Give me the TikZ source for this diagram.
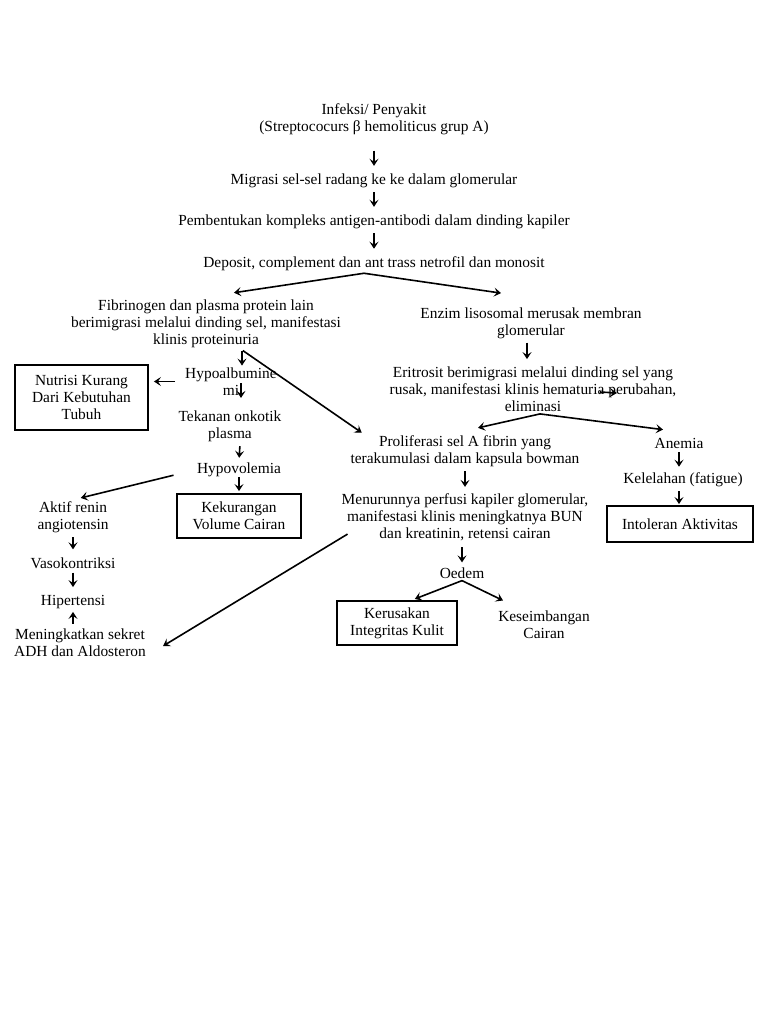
\documentclass[tikz,border=0pt]{standalone}
\usepackage{fontspec}
\setmainfont{Liberation Serif}
\usetikzlibrary{arrows.meta}

\begin{document}
\begin{tikzpicture}[x=1pt,y=-1pt,font=\fontsize{15.4}{16.8}\selectfont]
  \tikzstyle{txt}=[align=center,inner xsep=2pt,inner ysep=2pt]
  \tikzstyle{boxed}=[txt,draw,line width=1.9pt]
  \tikzstyle{arr}=[-{Stealth[length=7pt,width=9pt,inset=3pt]},line width=1.6pt,shorten <=2pt,shorten >=6pt]
  \useasboundingbox (0,0) rectangle (768,1024);
  % main chain
  \node[txt] (infeksi) at (374,119) {Infeksi/ Penyakit\\(Streptococurs β hemoliticus grup A)};
  \node[txt] (migrasi) at (374,181) {Migrasi sel-sel radang ke ke dalam glomerular};
  \node[txt] (pemb) at (374,222) {Pembentukan kompleks antigen-antibodi dalam dinding kapiler};
  \node[txt] (deposit) at (374,264) {Deposit, complement dan ant trass netrofil dan monosit};
  % left branch
  \node[txt] (fib) at (206,324) {Fibrinogen dan plasma protein lain\\berimigrasi melalui dinding sel, manifestasi\\klinis proteinuria};
  \node[txt] (hypo) at (231,381.5) {Hypoalbumine\\mi};
  \node[boxed,minimum width=133pt,minimum height=65pt] (nutrisi) at (81.5,397.5) {Nutrisi Kurang\\Dari Kebutuhan\\Tubuh};
  \node[txt] (tek) at (230,426.5) {Tekanan onkotik\\plasma};
  \node[txt] (hypov) at (239,470) {Hypovolemia};
  \node[boxed,minimum width=124pt,minimum height=44pt] (kek) at (239,516) {Kekurangan\\Volume Cairan};
  \node[txt] (aktif) at (73,517.5) {Aktif renin\\angiotensin};
  \node[txt] (vaso) at (73,563) {Vasokontriksi};
  \node[txt] (hiper) at (73,602) {Hipertensi};
  \node[txt] (menin) at (80,643) {Meningkatkan sekret\\ADH dan Aldosteron};
  % right branch
  \node[txt] (enzim) at (531,323) {Enzim lisosomal merusak membran\\glomerular};
  \node[txt] (erit) at (533,389.5) {Eritrosit berimigrasi melalui dinding sel yang\\rusak, manifestasi klinis hematuria perubahan,\\eliminasi};
  \node[txt] (prolif) at (465,451.5) {Proliferasi sel A fibrin yang\\terakumulasi dalam kapsula bowman};
  \node[txt] (menurun) at (465,517.5) {Menurunnya perfusi kapiler glomerular,\\manifestasi klinis meningkatnya BUN\\dan kreatinin, retensi cairan};
  \node[txt] (oedem) at (462,573) {Oedem};
  \node[boxed,minimum width=120pt,minimum height=44pt] (kerus) at (397,623) {Kerusakan\\Integritas Kulit};
  \node[txt] (kesei) at (544,624.5) {Keseimbangan\\Cairan};
  \node[txt] (anemia) at (679,443) {Anemia};
  \node[txt] (kel) at (683,480) {Kelelahan (fatigue)};
  \node[boxed,minimum width=146pt,minimum height=36pt] (intol) at (680,524) {Intoleran Aktivitas};
  \coordinate (hemA) at (600,392);
  \coordinate (hemB) at (617,393);
  % arrows
  \draw[arr,shorten <=14pt] (infeksi) -- (migrasi);
  \draw[arr] (migrasi) -- (pemb);
  \draw[arr] (pemb) -- (deposit);
  \draw[arr,shorten <=0pt,shorten >=2pt] ([xshift=-10pt]deposit.south) -- ([xshift=26pt,yshift=5pt]fib.north);
  \draw[arr,shorten <=0pt,shorten >=2pt] ([xshift=-10pt]deposit.south) -- ([xshift=-28pt,yshift=12pt]enzim.north);
  \draw[arr,shorten <=1pt,shorten >=0pt] ([xshift=36pt]fib.south) -- ([xshift=11pt]hypo.north);
  \draw[arr,shorten <=1pt,shorten >=2pt] ([xshift=36pt]fib.south) -- ([xshift=15pt]prolif.north west);
  \draw[arr,shorten <=8pt,shorten >=5pt] (hypo.west) -- (hypo.west -| nutrisi.east);
  \draw[arr,shorten <=0pt,shorten >=0pt] ([xshift=10pt,yshift=14pt]hypo.south) -- ([xshift=11pt,yshift=11pt]tek.north);
  \draw[arr,shorten >=3pt] ([xshift=10pt]tek.south) -- (hypov.north);
  \draw[arr,shorten <=22pt,shorten >=8pt] (hypov.west) -- (aktif.north);
  \draw[arr,shorten <=-2pt,shorten >=2pt] (hypov) -- (kek);
  \draw[arr] (aktif) -- (vaso);
  \draw[arr] (vaso) -- (hiper);
  \draw[arr,shorten <=3pt,shorten >=1pt] ([xshift=-7pt]menin.north) -- (hiper.south);
  \draw[arr,shorten <=0pt,shorten >=0pt] ([xshift=8pt,yshift=9pt]menurun.south west) -- ([xshift=15pt,yshift=-3pt]menin.east);
  \draw[arr] ([xshift=-4pt]enzim.south) -- ([xshift=-6pt]erit.north);
  \draw[arr,shorten <=0pt,shorten >=0pt] (hemA) -- (hemB);
  \draw[arr,shorten <=0pt,shorten >=0pt] ([xshift=7pt]erit.south) -- ([xshift=13pt,yshift=6pt]prolif.north);
  \draw[arr,shorten <=0pt,shorten >=0pt] ([xshift=7pt]erit.south) -- ([xshift=-16pt,yshift=6pt]anemia.north);
  \draw[arr,shorten >=5pt] (prolif) -- (menurun);
  \draw[arr,shorten >=4pt] (anemia) -- (anemia |- kel.north);
  \draw[arr,shorten >=1pt] (kel.south -| anemia) -- (intol.north -| anemia);
  \draw[arr,shorten <=4pt,shorten >=3pt] ([xshift=-3pt]menurun.south) -- (oedem.north);
  \draw[arr,shorten <=0pt,shorten >=3pt] (oedem.south) -- ([xshift=15pt]kerus.north);
  \draw[arr,shorten <=0pt,shorten >=0pt] (oedem.south) -- ([xshift=-41pt,yshift=8pt]kesei.north);
\end{tikzpicture}
\end{document}
